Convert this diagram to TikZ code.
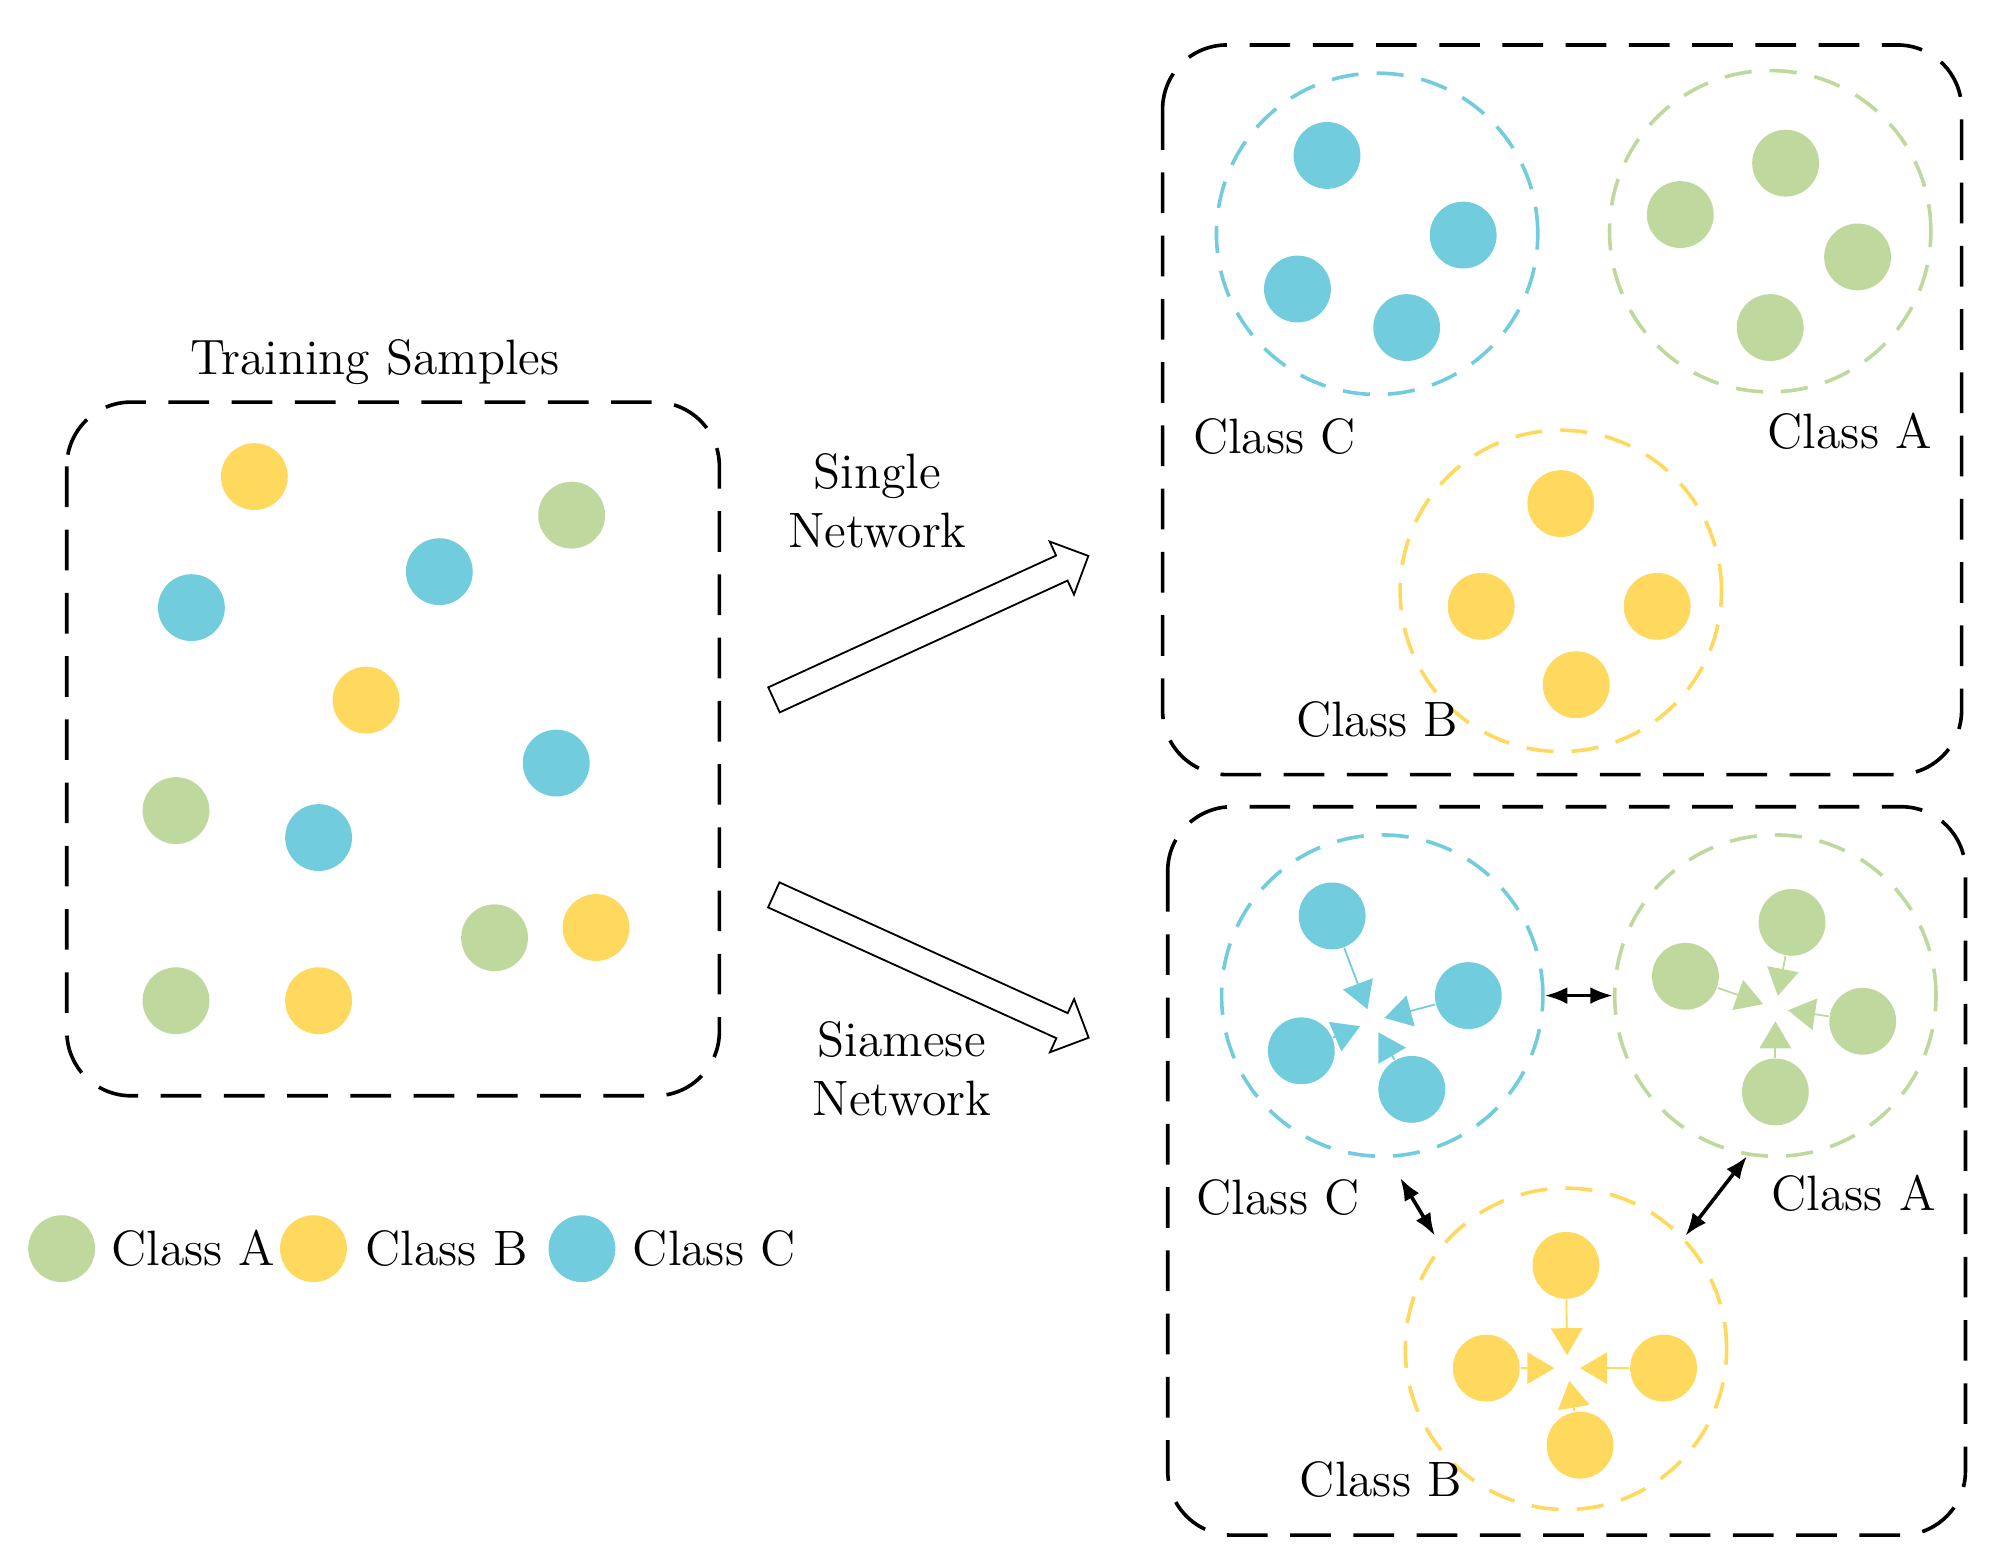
\documentclass[tikz,border=0pt]{standalone}
\usetikzlibrary{shapes.arrows,arrows.meta,calc}
\definecolor{cA}{RGB}{190,216,158}
\definecolor{cB}{RGB}{255,217,94}
\definecolor{cC}{RGB}{113,204,221}
\begin{document}
\begin{tikzpicture}[x=0.01cm,y=-0.01cm,
  dot/.style={circle,fill=#1,minimum size=0.52cm,inner sep=0},
  box/.style={draw,thick,dash pattern=on 9pt off 5pt,rounded corners=0.5cm},
  ring/.style={draw=#1,thick,dash pattern=on 6pt off 4pt,circle,minimum size=2.5cm,inner sep=0},
  lbl/.style={font=\fontsize{11}{13}\selectfont},
  pull/.style={draw=#1,-{Triangle[length=6pt,width=7pt,fill=#1]}},
  big/.style={draw,single arrow,minimum height=2.69cm,inner xsep=0,inner ysep=0.1cm,
    single arrow head extend=0.12cm,single arrow head indent=0},
  link/.style={{Latex[length=5pt]}-{Latex[length=5pt]},thick}]
\useasboundingbox (0,0) rectangle (1560,1218);
% left box
\draw[box] (52,313) rectangle (560,853);
\node[lbl] (ttl) at (292,282) {Training Samples};
\foreach \x/\y/\c [count=\i] in {198/371/cB,445/401/cA,342/445/cC,149/473/cC,285/545/cB,433/594/cC,137/631/cA,248/652/cC,385/730/cA,464/722/cB,137/779/cA,248/779/cB}
  \node[dot=\c] (s\i) at (\x,\y) {};
% legend
\node[dot=cA] (la) at (48,972) {}; \node[lbl,right,inner sep=0] (lta) at (86,972) {Class A};
\node[dot=cB] (lb) at (244,972) {}; \node[lbl,right,inner sep=0] (ltb) at (284,972) {Class B};
\node[dot=cC] (lc) at (453,972) {}; \node[lbl,right,inner sep=0] (ltc) at (492,972) {Class C};
% big arrows
\node[big,rotate=24.6] (ar1) at (720,491) {};
\node[big,rotate=-24.4] (ar2) at (720,750) {};
\node[lbl,align=center] (t1) at (683,390) {Single\\Network};
\node[lbl,align=center] (t2) at (702,832) {Siamese\\Network};
% top right
\draw[box] (905,35) rectangle (1527,603);
\node[ring=cC] (uc) at (1072,182) {};
\node[ring=cA] (ua) at (1378,180) {};
\node[ring=cB] (ub) at (1215,460) {};
\foreach \x/\y/\c [count=\i] in {1033/121/cC,1139/183/cC,1010/225/cC,1095/255/cC,1390/127/cA,1308/167/cA,1446/200/cA,1378/255/cA,1215/392/cB,1153/472/cB,1290/472/cB,1227/533/cB}
  \node[dot=\c] (u\i) at (\x,\y) {};
\node[lbl] (uta) at (1440,336) {Class A};
\node[lbl] (utb) at (1072,560) {Class B};
\node[lbl] (utc) at (992,340) {Class C};
% bottom right
\draw[box] (909,628) rectangle (1530,1195);
\node[ring=cC] (bc) at (1076,775) {};
\node[ring=cA] (ba) at (1382,775) {};
\node[ring=cB] (bb) at (1219,1050) {};
\coordinate (mc) at (1068,795);
\coordinate (ma) at (1382,785);
\coordinate (mb) at (1220,1065);
\foreach \x/\y/\c/\m [count=\i] in {1037/713/cC/mc,1143/775/cC/mc,1013/818/cC/mc,1099/848/cC/mc,1395/718/cA/ma,1312/760/cA/ma,1450/795/cA/ma,1382/850/cA/ma,1219/985/cB/mb,1157/1065/cB/mb,1295/1065/cB/mb,1230/1125/cB/mb}{
  \node[dot=\c] (d\i) at (\x,\y) {};
  \draw[pull=\c] (d\i) -- ($(\m)!0.1cm!(d\i)$);
}
\draw[link] (bc.east) -- (ba.west);
\coordinate (k1) at (1090,917); \coordinate (k2) at (1117,962);
\coordinate (k3) at (1360,900); \coordinate (k4) at (1312,962);
\draw[link] (k1) -- (k2);
\draw[link] (k3) -- (k4);
\node[lbl] (bta) at (1443,929) {Class A};
\node[lbl] (btb) at (1075,1152) {Class B};
\node[lbl] (btc) at (995,932) {Class C};
\end{tikzpicture}
\end{document}
